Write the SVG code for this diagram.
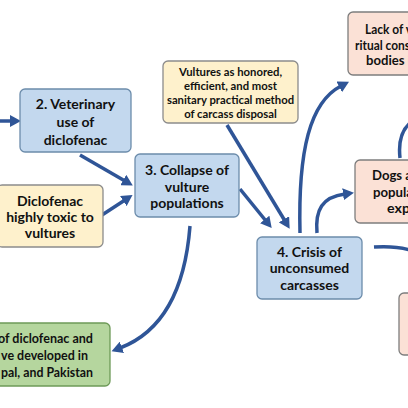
<svg xmlns="http://www.w3.org/2000/svg" width="408" height="408" viewBox="0 0 408 408">
<style>
.box{stroke-width:1.3}
.blue{fill:#c3d8ee;stroke:#6c8cab}
.yel{fill:#fef1cc;stroke:#8c8c8c}
.pink{fill:#fbe1d6;stroke:#7d7d7d}
.green{fill:#b5d69e;stroke:#6e9a58}
text{font-family:Lato,"Liberation Sans",sans-serif;font-weight:bold;fill:#111;font-size:14px}
.c{text-anchor:middle}
.s{font-size:11.3px}
.n{font-size:13.5px}
.conn path{fill:none;stroke:#2f5597;stroke-width:3.5}
</style>
<defs>
<marker id="ah" markerUnits="userSpaceOnUse" markerWidth="12" markerHeight="12" refX="2" refY="6" orient="auto">
<path d="M0,0 L11,6 L0,12 Z" fill="#2f5597"/>
</marker>
</defs>
<rect width="408" height="408" fill="#ffffff"/>
<g class="conn">
<path d="M0,121 L12,121" marker-end="url(#ah)"/>
<path d="M80,155 L125,181" marker-end="url(#ah)"/>
<path d="M102,215 L125,200" marker-end="url(#ah)"/>
<path d="M190,226 C185,290 162,332 120,348" marker-end="url(#ah)"/>
<path d="M240,189 L266,221" marker-end="url(#ah)"/>
<path d="M227,125 L285,221" marker-end="url(#ah)"/>
<path d="M300,233 C298,150 310,102 341,86" marker-end="url(#ah)"/>
<path d="M317,233 C315,210 322,197 345,194" marker-end="url(#ah)"/>
<path d="M400,158 C398,140 402,130 410,123"/>
<path d="M374,247 C390,246 400,247 410,250"/>
</g>
<g id="node2">
<rect class="box blue" x="20" y="89" width="111" height="63" rx="5"/>
<text class="c" x="75.5" y="109">2. Veterinary</text>
<text class="c" x="75.5" y="127">use of</text>
<text class="c" x="75.5" y="145">diclofenac</text>
</g>
<g id="toxic">
<rect class="box yel" x="-3" y="185" width="106" height="62" rx="5"/>
<text class="c" x="50" y="206">Diclofenac</text>
<text class="c" x="50" y="222">highly toxic to</text>
<text class="c" x="50" y="238">vultures</text>
</g>
<g id="node3">
<rect class="box blue" x="135" y="154" width="104" height="63" rx="5"/>
<text class="c" x="187" y="175">3. Collapse of</text>
<text class="c" x="187" y="191.5">vulture</text>
<text class="c" x="187" y="208">populations</text>
</g>
<g id="honored">
<rect class="box yel" x="163" y="61" width="135" height="62" rx="5"/>
<text class="c s" x="230.5" y="76">Vultures as honored,</text>
<text class="c s" x="230.5" y="90">efficient, and most</text>
<text class="c s" x="230.5" y="104">sanitary practical method</text>
<text class="c s" x="230.5" y="118">of carcass disposal</text>
</g>
<g id="node4">
<rect class="box blue" x="257" y="237" width="105" height="62" rx="5"/>
<text class="c" x="309.5" y="256.5">4. Crisis of</text>
<text class="c" x="309.5" y="273">unconsumed</text>
<text class="c" x="309.5" y="289.5">carcasses</text>
</g>
<g id="lack">
<rect class="box pink" x="348" y="12" width="100" height="63" rx="5"/>
<text class="n" x="365" y="34" textLength="47" lengthAdjust="spacingAndGlyphs">Lack of v</text>
<text class="n" x="355" y="49.5" textLength="55" lengthAdjust="spacingAndGlyphs">ritual cons</text>
<text class="n" x="366" y="65" textLength="45" lengthAdjust="spacingAndGlyphs">bodies i</text>
</g>
<g id="dogs">
<rect class="box pink" x="355" y="160" width="100" height="63" rx="5"/>
<text class="n" x="372" y="180" textLength="40" lengthAdjust="spacingAndGlyphs">Dogs a</text>
<text class="n" x="373" y="196.5" textLength="40" lengthAdjust="spacingAndGlyphs">popula</text>
<text class="n" x="387" y="213" textLength="23" lengthAdjust="spacingAndGlyphs">exp</text>
</g>
<g id="rightbox">
<rect class="box pink" x="399" y="293" width="60" height="62" rx="5"/>
</g>
<g id="green">
<rect class="box green" x="-40" y="323" width="150" height="63" rx="5"/>
<text x="-2" y="342.5" textLength="95" lengthAdjust="spacingAndGlyphs">of diclofenac and</text>
<text x="1" y="359.5" textLength="87" lengthAdjust="spacingAndGlyphs">ve developed in</text>
<text x="1" y="376.5" textLength="92" lengthAdjust="spacingAndGlyphs">pal, and Pakistan</text>
</g>
</svg>
